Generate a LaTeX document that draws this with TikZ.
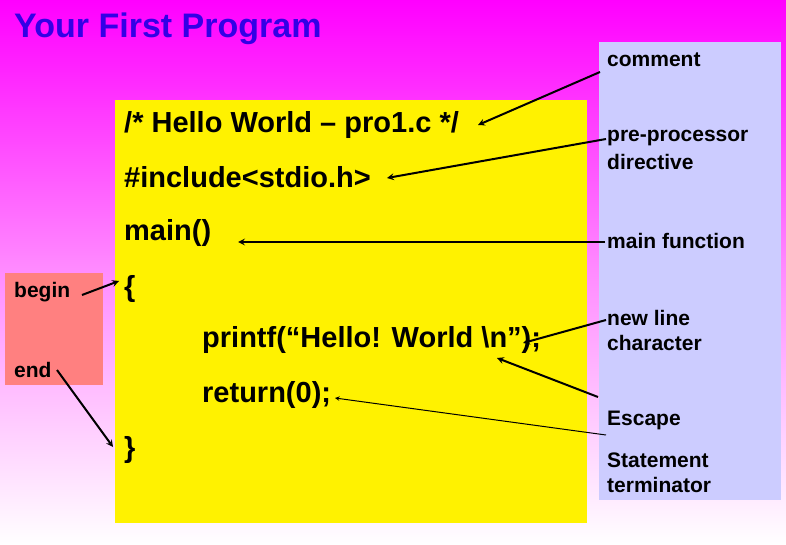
\documentclass[tikz,border=0pt]{standalone}
\usepackage{fontspec}
\setmainfont{Liberation Sans}
\definecolor{lav}{RGB}{204,204,255}
\definecolor{salmon}{RGB}{255,128,128}
\definecolor{ttl}{RGB}{51,0,230}
\begin{document}
\begin{tikzpicture}[x=1pt,y=-1pt,
  code/.style={anchor=west,inner sep=0,font=\fontsize{29}{32}\selectfont\bfseries},
  lbl/.style={anchor=west,inner sep=0,font=\fontsize{21}{24}\selectfont\bfseries},
  arr/.style={-stealth,line width=2pt},
  thin arr/.style={-stealth,line width=1pt}]
\useasboundingbox (0,0) rectangle (786,545);
\shade[top color=magenta,bottom color=white,middle color={rgb,255:red,255;green,140;blue,255}] (0,0) rectangle (786,545);
\fill[lav] (599,42) rectangle (781,500);
\fill[salmon] (5,273) rectangle (103,385);
\fill[yellow] (115,100) rectangle (587,523);
\node[anchor=west,inner sep=0,text=ttl,font=\fontsize{34}{38}\selectfont\bfseries] (title) at (14,29) {Your First Program};
\node[code] (c1) at (124,125) {/* Hello World -- pro1.c */};
\node[code] (c2) at (124,177) {\#include<stdio.h>};
\node[code] (c3) at (124,233) {main()};
\node[code] (c4) at (124,289) {\{};
\node[code] (c5) at (202,340) {printf(“Hello! World \textbackslash n”);};
\node[code] (c6) at (202,395) {return(0);};
\node[code] (c7) at (124,450) {\}};
\node[lbl] (l1) at (607,60) {comment};
\node[lbl] (l2) at (607,138) {pre-processor};
\node[lbl] (l2b) at (607,162) {directive};
\node[lbl] (l3) at (607,241) {main function};
\node[lbl] (l4) at (607,318) {new line};
\node[lbl] (l4b) at (607,343) {character};
\node[lbl] (l5) at (607,420) {Escape};
\node[lbl] (l6) at (607,460) {Statement};
\node[lbl] (l6b) at (607,485) {terminator};
\node[lbl] (b) at (14,292) {begin};
\node[lbl] (e) at (14,370) {end};
\coordinate (a1s) at (600,72); \coordinate (a1e) at (478,125);
\coordinate (a2s) at (606,139); \coordinate (a2e) at (387,178);
\coordinate (a3s) at (605,242); \coordinate (a3e) at (238,242);
\coordinate (a4s) at (606,320); \coordinate (a4e) at (523,343);
\coordinate (a5s) at (598,397); \coordinate (a5e) at (497,358);
\coordinate (a6s) at (606,435); \coordinate (a6e) at (335,398);
\coordinate (bs) at (82,295); \coordinate (be) at (119,281);
\coordinate (es) at (57,370); \coordinate (ee) at (113,447);
\draw[arr] (a1s) -- (a1e);
\draw[arr] (a2s) -- (a2e);
\draw[arr] (a3s) -- (a3e);
\draw[arr] (a4s) -- (a4e);
\draw[arr] (a5s) -- (a5e);
\draw[thin arr] (a6s) -- (a6e);
\draw[arr] (bs) -- (be);
\draw[arr] (es) -- (ee);
\end{tikzpicture}
\end{document}
